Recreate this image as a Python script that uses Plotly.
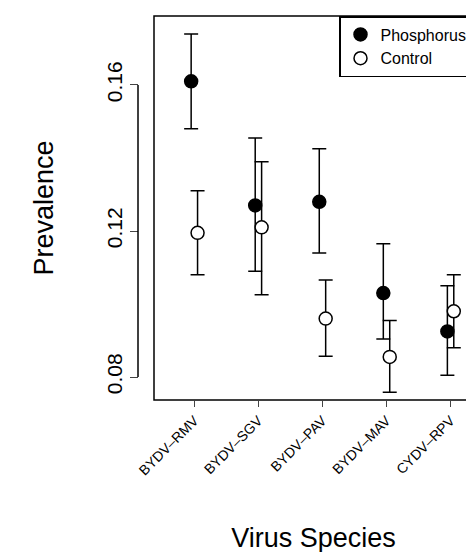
import plotly.graph_objects as go

cats = ["BYDV–RMV", "BYDV–SGV", "BYDV–PAV", "BYDV–MAV", "CYDV–RPV"]
phos = [0.161, 0.127, 0.128, 0.103, 0.0925]
phos_hi = [0.174, 0.1455, 0.1425, 0.1165, 0.105]
phos_lo = [0.148, 0.109, 0.114, 0.0904, 0.0805]
ctrl = [0.1195, 0.121, 0.096, 0.0855, 0.098]
ctrl_hi = [0.131, 0.139, 0.1066, 0.0955, 0.108]
ctrl_lo = [0.108, 0.1025, 0.0857, 0.0758, 0.088]
yticks = [0.08, 0.12, 0.16]

pos = list(range(1, len(cats) + 1))
def err(v, hi, lo):
    return dict(type="data", symmetric=False, array=[h - m for h, m in zip(hi, v)],
                arrayminus=[m - l for m, l in zip(v, lo)], color="black", thickness=1.5, width=7)

fig = go.Figure()
fig.add_trace(go.Scatter(x=[p - 0.05 for p in pos], y=phos, mode="markers", name="Phosphorus",
                         marker=dict(color="black", size=13, line=dict(color="black", width=1.5)),
                         error_y=err(phos, phos_hi, phos_lo)))
fig.add_trace(go.Scatter(x=[p + 0.05 for p in pos], y=ctrl, mode="markers", name="Control",
                         marker=dict(color="white", size=13, line=dict(color="black", width=1.5)),
                         error_y=err(ctrl, ctrl_hi, ctrl_lo)))
d0 = 16 / 335
fig.update_layout(
    width=474, height=552, plot_bgcolor="white", paper_bgcolor="white",
    margin=dict(l=130, r=9, t=8, b=160),
    font=dict(family="Liberation Sans, Arial", color="black"),
    xaxis=dict(domain=[d0, 1], range=[0.37, 5.35], tickvals=pos, ticktext=cats, tickangle=-45,
               ticks="outside", ticklen=6, tickfont=dict(size=14), showgrid=False, zeroline=False,
               automargin=False,
               title=dict(text="Virus Species", font=dict(size=27), standoff=50)),
    yaxis=dict(anchor="free", position=0, range=[0.0737, 0.1789], tickvals=yticks,
               ticktext=[f"{t:.2f}" for t in yticks], tickangle=-90, ticks="outside", ticklen=8,
               tickfont=dict(size=21), showgrid=False, zeroline=False, automargin=False,
               title=dict(text="Prevalence", font=dict(size=27), standoff=40)),
    legend=dict(x=1, y=1, xanchor="right", yanchor="top", bordercolor="black", borderwidth=1.5,
                font=dict(size=16), bgcolor="white", itemwidth=30),
    shapes=[
        dict(type="rect", xref="paper", yref="paper", x0=d0, x1=1, y0=0, y1=1,
             line=dict(color="black", width=1.5)),
        dict(type="line", xref="paper", yref="y", x0=0, x1=0, y0=yticks[0], y1=yticks[-1],
             line=dict(color="black", width=1.5)),
    ],
)
fig.write_html("out.html")
